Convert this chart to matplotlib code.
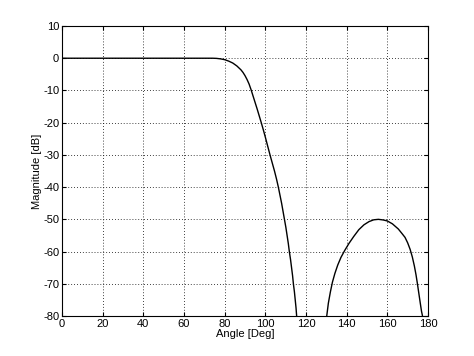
import matplotlib
matplotlib.use("Agg")
import matplotlib.pyplot as plt

# Main lobe (angle in deg, magnitude in dB)
main_angle = [0, 74, 76, 78, 80, 82, 84, 86, 88, 89, 90, 91, 92, 93, 94, 95, 96, 97, 98, 99, 100,
              101, 102.3, 103.4, 104.5, 105.5, 106.4, 107.2, 108, 108.7, 109.4, 110.1, 110.7, 111.3,
              111.8, 112.4, 112.9, 113.4, 113.8, 114.3, 114.7, 115.1, 115.4]
main_mag = [0, 0, -0.05, -0.2, -0.45, -0.9, -1.5, -2.4, -3.6, -4.4, -5.4, -6.6, -8.0, -9.8, -11.8, -13.8,
            -15.8, -17.9, -20, -22.2, -24.5, -26.9, -30, -32.5, -35, -37.5, -40, -42.5, -45, -47.5,
            -50, -52.5, -55, -57.5, -60, -62.5, -65, -67.5, -70, -72.5, -75, -77.5, -80]

# Side lobe
side_angle = [130.2, 131.0, 132.0, 133.0, 134.2, 135.6, 137.2, 139.0, 141.2, 143.5, 146.0, 148.5,
              151.0, 153.3, 155.6, 158.0, 160.0, 162.5, 165.4, 167.2, 168.7, 170.0, 171.2, 172.3,
              173.3, 174.1, 174.8, 175.5, 176.2, 176.8, 177.3]
side_mag = [-80, -76, -72.5, -69.5, -66.8, -64.2, -61.8, -59.7, -57.4, -55.3, -53.2, -51.7,
            -50.7, -50.15, -50, -50.2, -50.5, -51.4, -53, -54.4, -55.6, -57.3, -59.3, -61.7,
            -64.5, -67.2, -70, -73, -76, -78.5, -80]

xticks = [0, 20, 40, 60, 80, 100, 120, 140, 160, 180]
yticks = [10, 0, -10, -20, -30, -40, -50, -60, -70, -80]

plt.rcParams['font.family'] = ['Liberation Sans', 'DejaVu Sans']
plt.rcParams['axes.unicode_minus'] = False
fig = plt.figure(figsize=(4.74, 3.56), dpi=100)
ax = fig.add_axes([62/474, 1-316/356, (428-62)/474, (316-26)/356])

ax.plot(main_angle, main_mag, color='black', lw=1.0)
ax.plot(side_angle, side_mag, color='black', lw=1.0)

ax.set_xlim(0, 180)
ax.set_ylim(-80, 10)
ax.set_xticks(xticks)
ax.set_yticks(yticks)
ax.tick_params(direction='in', length=3, labelsize=8, pad=2, top=True, right=True)
ax.grid(True, color='black', linestyle=(0, (1, 2.5)), linewidth=0.6)
for s in ax.spines.values():
    s.set_linewidth(0.8)
ax.set_xlabel('Angle [Deg]', fontsize=8, labelpad=0)
ax.set_ylabel('Magnitude [dB]', fontsize=8, labelpad=1)

fig.savefig('out.png', dpi=100, facecolor='white')
